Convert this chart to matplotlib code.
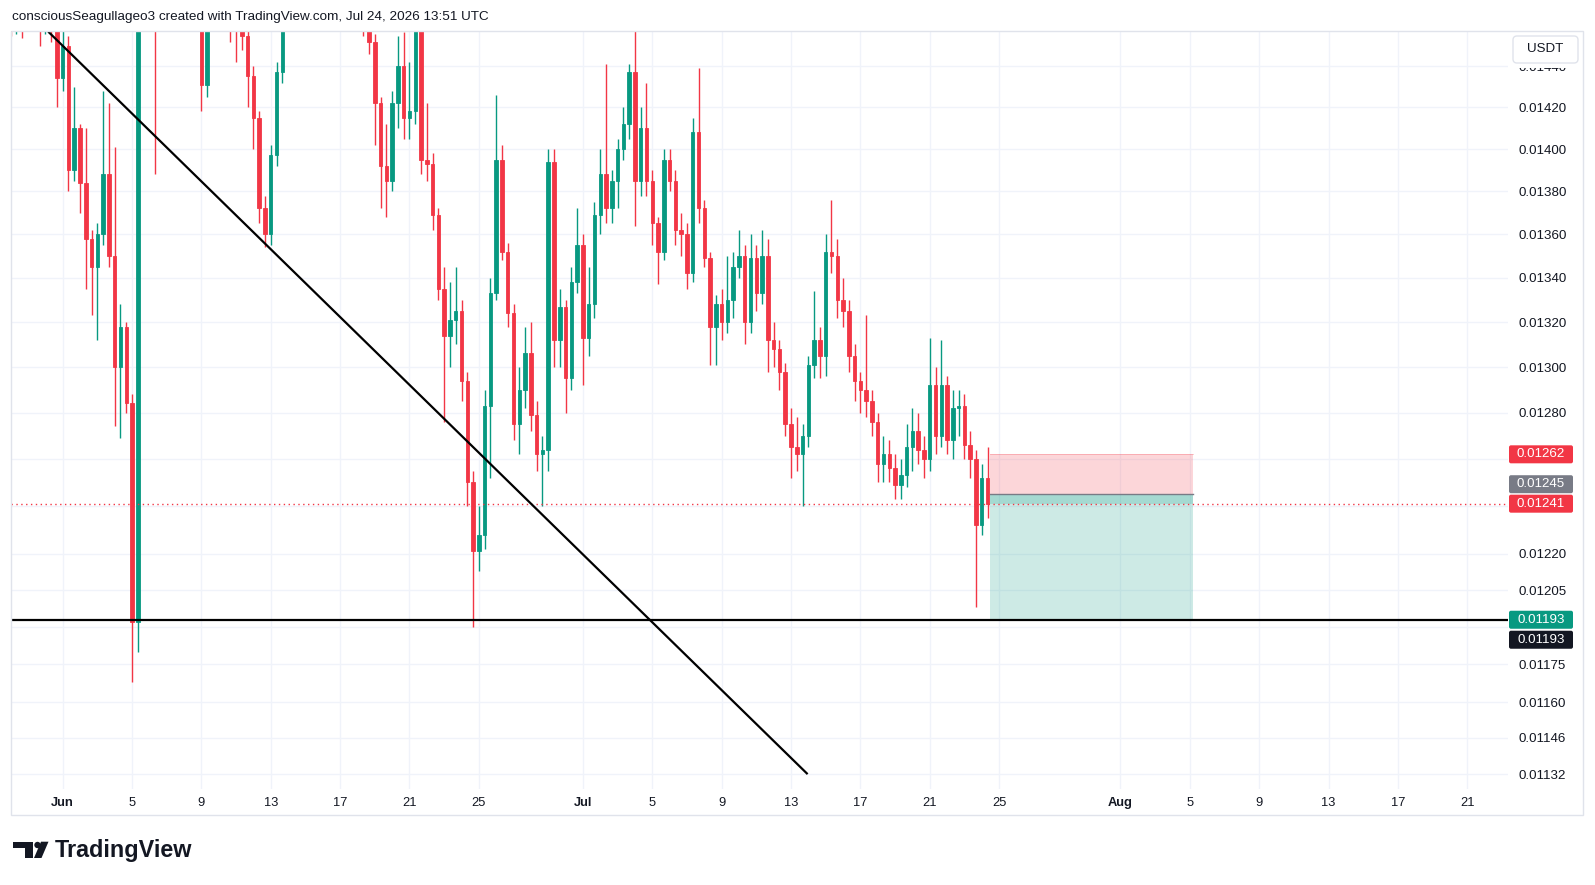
import matplotlib
matplotlib.use("Agg")
import matplotlib.pyplot as plt
import matplotlib.patches as mpatches
import matplotlib.transforms as mtransforms
from matplotlib.ticker import NullLocator
import numpy as np
import pandas as pd

plt.rcParams['font.family'] = ['Liberation Sans', 'DejaVu Sans']

# ---- data: 8h candles starting May 29 2026 ----
start_time = "2026-05-29 00:00"
first_open = 0.01470
closes = [
    0.01462, 0.01468, 0.01460, 0.01466, 0.01470, 0.01462, 0.01465, 0.01460, 0.01434, 0.01450,
    0.01390, 0.01410, 0.01384, 0.01358, 0.01345, 0.01360, 0.01388, 0.01350, 0.01300, 0.01318,
    0.01284, 0.01192, 0.01500, 0.01510, 0.01495, 0.01480, 0.01500, 0.01520, 0.01515, 0.01505,
    0.01490, 0.01480, 0.01470, 0.01431, 0.01475, 0.01490, 0.01485, 0.01475, 0.01468, 0.01462,
    0.01455, 0.01435, 0.01415, 0.01372, 0.01360, 0.01397, 0.01437, 0.01470, 0.01490, 0.01505,
    0.01520, 0.01530, 0.01515, 0.01525, 0.01540, 0.01530, 0.01515, 0.01505, 0.01495, 0.01485,
    0.01478, 0.01470, 0.01452, 0.01422, 0.01392, 0.01385, 0.01422, 0.01440, 0.01415, 0.01418,
    0.01470, 0.01395, 0.01393, 0.01369, 0.01335, 0.01314, 0.01321, 0.01325, 0.01294, 0.01250,
    0.01221, 0.01228, 0.01283, 0.01333, 0.01395, 0.01352, 0.01324, 0.01275, 0.01290, 0.01306,
    0.01279, 0.01262, 0.01264, 0.01394, 0.01312, 0.01327, 0.01295, 0.01338, 0.01355, 0.01313,
    0.01328, 0.01369, 0.01388, 0.01372, 0.01385, 0.01400, 0.01412, 0.01437, 0.01385, 0.01410,
    0.01385, 0.01365, 0.01352, 0.01395, 0.01385, 0.01362, 0.01360, 0.01342, 0.01408, 0.01372,
    0.01349, 0.01318, 0.01328, 0.01320, 0.01330, 0.01345, 0.01350, 0.01320, 0.01349, 0.01333,
    0.01350, 0.01312, 0.01308, 0.01298, 0.01275, 0.01265, 0.01262, 0.01270, 0.01301, 0.01312,
    0.01305, 0.01352, 0.01350, 0.01330, 0.01325, 0.01305, 0.01294, 0.01290, 0.01285, 0.01276,
    0.01258, 0.01262, 0.01256, 0.01249, 0.01253, 0.01265, 0.01272, 0.01264, 0.01260, 0.01292,
    0.01270, 0.01292, 0.01268, 0.01282, 0.01283, 0.01266, 0.01260, 0.01232, 0.01252, 0.01241,
]
highs = [
    0.01480, 0.01476, 0.01472, 0.01478, 0.01482, 0.01475, 0.01472, 0.01470, 0.01462, 0.01460,
    0.01455, 0.01430, 0.01412, 0.01410, 0.01362, 0.01365, 0.01428, 0.01422, 0.01401, 0.01328,
    0.01320, 0.01288, 0.01512, 0.01530, 0.01520, 0.01500, 0.01515, 0.01540, 0.01535, 0.01525,
    0.01510, 0.01500, 0.01490, 0.01475, 0.01490, 0.01510, 0.01500, 0.01490, 0.01480, 0.01475,
    0.01468, 0.01460, 0.01440, 0.01418, 0.01378, 0.01402, 0.01442, 0.01480, 0.01510, 0.01520,
    0.01540, 0.01550, 0.01540, 0.01550, 0.01560, 0.01550, 0.01540, 0.01520, 0.01510, 0.01500,
    0.01490, 0.01490, 0.01475, 0.01456, 0.01425, 0.01412, 0.01428, 0.01455, 0.01457, 0.01442,
    0.01490, 0.01500, 0.01422, 0.01398, 0.01372, 0.01345, 0.01338, 0.01345, 0.01330, 0.01298,
    0.01255, 0.01240, 0.01290, 0.01340, 0.01426, 0.01402, 0.01356, 0.01328, 0.01300, 0.01318,
    0.01320, 0.01285, 0.01270, 0.01400, 0.01400, 0.01335, 0.01330, 0.01345, 0.01372, 0.01360,
    0.01345, 0.01375, 0.01400, 0.01441, 0.01390, 0.01405, 0.01420, 0.01441, 0.01470, 0.01420,
    0.01432, 0.01390, 0.01368, 0.01400, 0.01400, 0.01390, 0.01370, 0.01365, 0.01415, 0.01439,
    0.01376, 0.01352, 0.01332, 0.01335, 0.01350, 0.01352, 0.01362, 0.01355, 0.01360, 0.01355,
    0.01362, 0.01358, 0.01320, 0.01312, 0.01302, 0.01282, 0.01278, 0.01275, 0.01305, 0.01334,
    0.01318, 0.01360, 0.01376, 0.01358, 0.01340, 0.01330, 0.01310, 0.01298, 0.01323, 0.01290,
    0.01280, 0.01270, 0.01268, 0.01262, 0.01260, 0.01275, 0.01282, 0.01280, 0.01270, 0.01313,
    0.01300, 0.01312, 0.01296, 0.01290, 0.01290, 0.01288, 0.01272, 0.01264, 0.01258, 0.01265,
]
lows = [
    0.01455, 0.01456, 0.01454, 0.01458, 0.01460, 0.01450, 0.01456, 0.01452, 0.01420, 0.01428,
    0.01380, 0.01385, 0.01370, 0.01335, 0.01323, 0.01312, 0.01355, 0.01345, 0.01274, 0.01269,
    0.01280, 0.01168, 0.01180, 0.01480, 0.01470, 0.01388, 0.01475, 0.01490, 0.01495, 0.01485,
    0.01470, 0.01462, 0.01460, 0.01418, 0.01425, 0.01470, 0.01470, 0.01460, 0.01452, 0.01442,
    0.01448, 0.01420, 0.01400, 0.01365, 0.01354, 0.01355, 0.01392, 0.01432, 0.01460, 0.01480,
    0.01500, 0.01510, 0.01500, 0.01500, 0.01520, 0.01510, 0.01500, 0.01490, 0.01480, 0.01470,
    0.01465, 0.01455, 0.01446, 0.01402, 0.01372, 0.01368, 0.01380, 0.01410, 0.01405, 0.01405,
    0.01412, 0.01388, 0.01385, 0.01362, 0.01330, 0.01276, 0.01300, 0.01310, 0.01285, 0.01240,
    0.01190, 0.01213, 0.01222, 0.01252, 0.01330, 0.01348, 0.01318, 0.01268, 0.01262, 0.01282,
    0.01272, 0.01255, 0.01240, 0.01255, 0.01300, 0.01300, 0.01280, 0.01290, 0.01333, 0.01292,
    0.01305, 0.01322, 0.01360, 0.01365, 0.01365, 0.01372, 0.01395, 0.01405, 0.01364, 0.01378,
    0.01378, 0.01355, 0.01337, 0.01348, 0.01380, 0.01355, 0.01350, 0.01335, 0.01338, 0.01365,
    0.01345, 0.01301, 0.01301, 0.01312, 0.01315, 0.01322, 0.01340, 0.01310, 0.01315, 0.01325,
    0.01328, 0.01298, 0.01300, 0.01290, 0.01270, 0.01252, 0.01255, 0.01240, 0.01265, 0.01295,
    0.01295, 0.01296, 0.01342, 0.01322, 0.01318, 0.01298, 0.01285, 0.01280, 0.01278, 0.01270,
    0.01250, 0.01250, 0.01250, 0.01243, 0.01243, 0.01248, 0.01255, 0.01258, 0.01252, 0.01255,
    0.01262, 0.01265, 0.01262, 0.01260, 0.01270, 0.01260, 0.01252, 0.01198, 0.01228, 0.01235,
]

tick_dates = ["2026-06-01", "2026-06-05", "2026-06-09", "2026-06-13", "2026-06-17",
              "2026-06-21", "2026-06-25", "2026-07-01", "2026-07-05", "2026-07-09",
              "2026-07-13", "2026-07-17", "2026-07-21", "2026-07-25", "2026-08-01",
              "2026-08-05", "2026-08-09", "2026-08-13", "2026-08-17", "2026-08-21"]
tick_labels = ["Jun", "5", "9", "13", "17", "21", "25", "Jul", "5", "9",
               "13", "17", "21", "25", "Aug", "5", "9", "13", "17", "21"]
month_labels = ["Jun", "Jul", "Aug"]

price_ticks = [0.01132, 0.01146, 0.01160, 0.01175, 0.01190, 0.01205, 0.01220, 0.01240,
               0.01260, 0.01280, 0.01300, 0.01320, 0.01340, 0.01360, 0.01380, 0.01400,
               0.01420, 0.01440]
hidden_ticks = [0.01190, 0.01240, 0.01260]

support = 0.01193
last_price = 0.01241
trend_a = ("2026-05-31 04:00", 0.01457)
trend_b = ("2026-07-13 23:00", 0.01132)
pos_from, pos_to = "2026-07-24 11:30", "2026-08-05 04:00"
entry, stop, target = 0.01245, 0.01262, 0.01193

view_from, view_to = "2026-05-29 00:30", "2026-08-23 08:20"
price_lo, price_hi = 0.011263, 0.014573

UP, DOWN = "#089981", "#F23645"
TXT = "#131722"
base = pd.Timestamp("2026-06-01")


def day(s):
    return (pd.Timestamp(s) - base) / pd.Timedelta(days=1)


W, H = 1595, 885
fig = plt.figure(figsize=(W / 100, H / 100), dpi=100)
fig.patch.set_facecolor("white")
ax = fig.add_axes([11 / W, 1 - 789 / H, (1508 - 11) / W, (789 - 31) / H])

# candles
times = pd.date_range(start_time, periods=len(closes), freq="8h")
x = np.array([(t - base) / pd.Timedelta(days=1) for t in times])
c = np.array(closes)
o = np.array([first_open] + closes[:-1])
hi = np.array(highs)
lo = np.array(lows)
cols = [UP if cc >= oo else DOWN for oo, cc in zip(o, c)]

ax.vlines(x, lo, hi, colors=cols, lw=1, zorder=3)
ax.bar(x, np.abs(c - o), bottom=np.minimum(o, c), width=0.2, color=cols,
       edgecolor=cols, linewidth=0.6, zorder=3)

ax.set_yscale("log")
ax.set_ylim(price_lo, price_hi)
ax.set_xlim(day(view_from), day(view_to))

# drawings
ax.axhline(support, color="black", lw=1.6, zorder=5)
ax.axhline(last_price, color=DOWN, lw=1, ls=(0, (1, 2.5)), zorder=4)
ax.plot([day(trend_a[0]), day(trend_b[0])], [trend_a[1], trend_b[1]],
        color="black", lw=1.6, zorder=5, solid_capstyle="butt")

px0, px1 = day(pos_from), day(pos_to)
ax.fill_between([px0, px1], entry, stop, color=DOWN, alpha=0.2, lw=0, zorder=2)
ax.fill_between([px0, px1], target, entry, color=UP, alpha=0.2, lw=0, zorder=2)
ax.fill_between([px0, px1], last_price, entry, color=UP, alpha=0.2, lw=0, zorder=2)
ax.plot([px0, px1], [entry, entry], color="#787B86", lw=1, zorder=3)
ax.plot([px0, px1], [stop, stop], color=DOWN, lw=0.6, alpha=0.3, zorder=3)

# axes styling
for s in ax.spines.values():
    s.set_visible(False)
ax.set_axisbelow(True)
ax.grid(True, color="#F0F3FA", lw=1)
ax.set_xticks([day(d) for d in tick_dates], tick_labels)
ax.tick_params(axis="x", length=0, pad=6, labelsize=9.3, colors=TXT)
for lab in ax.get_xticklabels():
    if lab.get_text() in month_labels:
        lab.set_fontweight("bold")
ax.yaxis.set_minor_locator(NullLocator())
ax.yaxis.tick_right()
ax.set_yticks(price_ticks, ["" if p in hidden_ticks else f"{p:.5f}" for p in price_ticks])
ax.tick_params(axis="y", length=0, pad=7.3, labelsize=9.6, colors=TXT)

# outer frame
fig.add_artist(mpatches.Rectangle((10.5 / W, 1 - 815 / H), (1583 - 10.5) / W, (815 - 30.5) / H,
                                  transform=fig.transFigure, fill=False, ec="#E0E3EB", lw=1))

ident = mtransforms.IdentityTransform()


def price_tag(price, text, bg, shift=0):
    yd = ax.transData.transform((day(view_from), price))[1] + shift
    box = mpatches.FancyBboxPatch((1509, yd - 9), 64, 18, boxstyle="round,pad=0,rounding_size=2",
                                  transform=ident, fc=bg, ec="none", zorder=10)
    fig.add_artist(box)
    fig.text(1541, yd, text, transform=ident, ha="center", va="center",
             color="white", fontsize=9.6, zorder=11)


price_tag(stop, "0.01262", DOWN)
price_tag(entry, "0.01245", "#787B86", shift=10)
price_tag(last_price, "0.01241", DOWN)
price_tag(target, "0.01193", UP)
price_tag(support, "0.01193", "#131722", shift=-20)

# currency box
fig.add_artist(mpatches.Rectangle((1509, H - 68), 72, 33, transform=ident,
                                  fc="white", ec="none", zorder=10))
fig.add_artist(mpatches.FancyBboxPatch((1513, H - 63), 65, 27, boxstyle="round,pad=0,rounding_size=4",
                                       transform=ident, fc="white", ec="#E0E3EB", lw=1, zorder=11))
fig.text(1545.5, H - 49.5, "USDT", transform=ident, ha="center", va="center",
         color=TXT, fontsize=9.6, zorder=12)

# header and logo
fig.text(12, H - 17, "consciousSeagullageo3 created with TradingView.com, Jul 24, 2026 13:51 UTC",
         transform=ident, ha="left", va="center", fontsize=9.7, color=TXT)

logo = [
    mpatches.Rectangle((13, H - 848), 20, 6.5),
    mpatches.Rectangle((25, H - 858), 8.3, 16.5),
    mpatches.Circle((37.5, H - 845), 3.2),
    mpatches.Polygon([(34, H - 858), (41.5, H - 858), (48.5, H - 841.7), (41, H - 841.7)]),
]
for p in logo:
    p.set_transform(ident)
    p.set_facecolor(TXT)
    p.set_edgecolor("none")
    fig.add_artist(p)
fig.text(55, H - 850, "TradingView", transform=ident, ha="left", va="center",
         fontsize=16.8, fontweight="bold", color=TXT)

fig.savefig("out.png", dpi=100)
